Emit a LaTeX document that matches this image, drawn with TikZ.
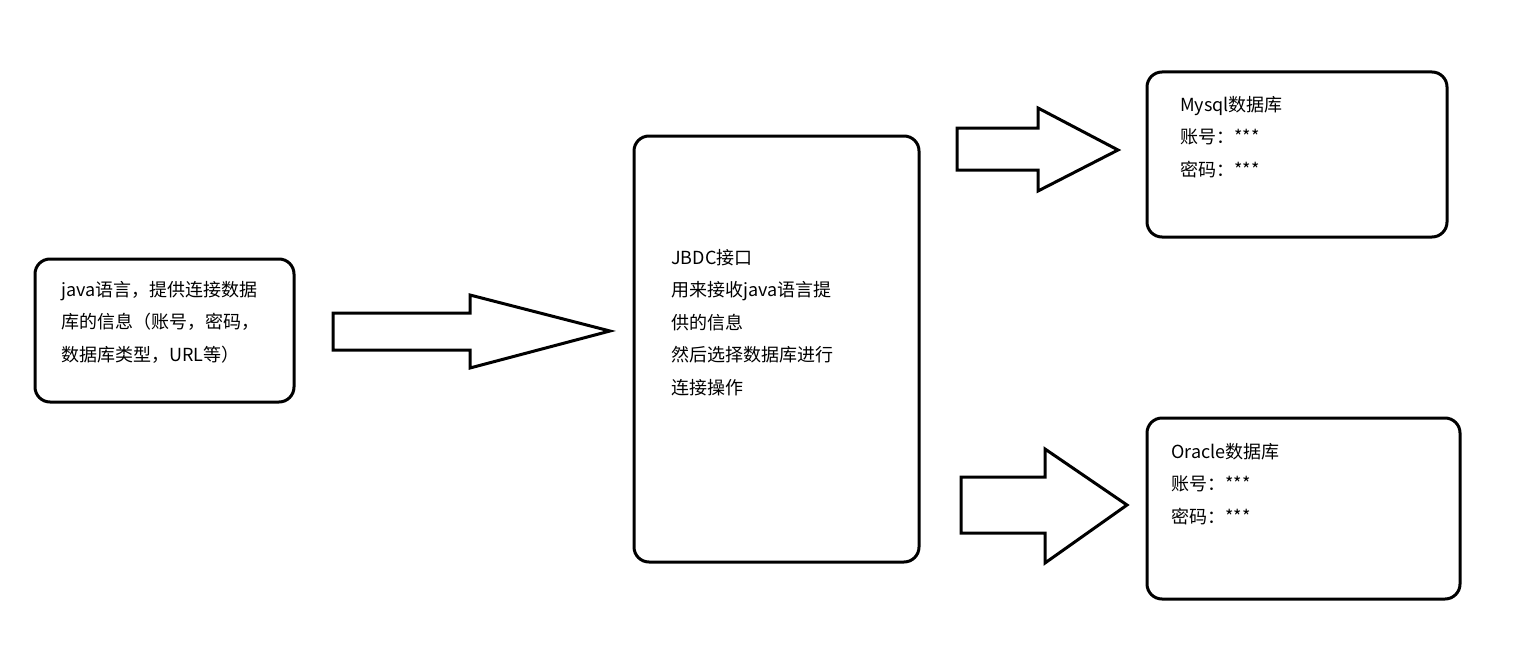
\documentclass[tikz,border=0pt]{standalone}
\usepackage{fontspec}
\setmainfont{Noto Sans CJK SC}
\begin{document}
\begin{tikzpicture}[x=1pt,y=-1pt,
  box/.style={draw=black,line width=3pt,rounded corners=15pt,inner sep=0pt},
  txt/.style={anchor=north west,inner sep=0pt,align=left,font=\fontsize{18}{32.5}\selectfont},
  blockarrow/.style={draw=black,line width=3pt,line join=miter,fill=white}]
\useasboundingbox[fill=white] (0,0) rectangle (1531,669);
\node[box,minimum width=259pt,minimum height=143pt] (L) at (164.5,330.5) {};
\node[box,minimum width=285pt,minimum height=426pt] (M) at (776.5,349) {};
\node[box,minimum width=300pt,minimum height=165pt] (S) at (1297,154.5) {};
\node[box,minimum width=313pt,minimum height=181pt] (O) at (1303.5,508.5) {};
\node[txt] (Lt) at (61,281) {java语言，提供连接数据\\库的信息（账号，密码，\\数据库类型，URL等）};
\node[txt] (Mt) at (671,249) {JBDC接口\\用来接收java语言提\\供的信息\\然后选择数据库进行\\连接操作};
\node[txt] (St) at (1180,96) {Mysql数据库\\账号：***\\密码：***};
\node[txt] (Ot) at (1171,443) {Oracle数据库\\账号：***\\密码：***};
\draw[blockarrow] (333,313) -- (470,313) -- (470,295) -- (610,331) -- (470,368) -- (470,350) -- (333,350) -- cycle;
\draw[blockarrow] (957,128) -- (1038,128) -- (1038,108) -- (1118,150) -- (1038,191) -- (1038,170) -- (957,170) -- cycle;
\draw[blockarrow] (961,477) -- (1045,477) -- (1045,449) -- (1127,505) -- (1045,563) -- (1045,533) -- (961,533) -- cycle;
\end{tikzpicture}
\end{document}
